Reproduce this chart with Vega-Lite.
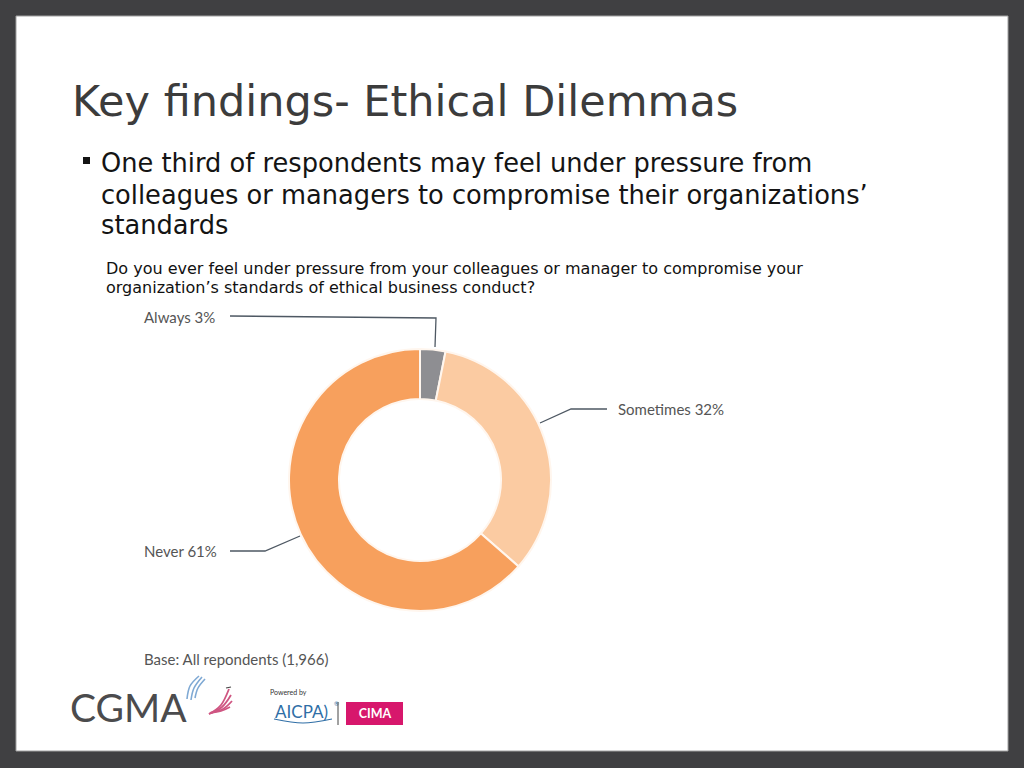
{
  "$schema": "https://vega.github.io/schema/vega-lite/v6.json",
  "width": 1024,
  "height": 768,
  "autosize": {"type": "fit", "contains": "padding"},
  "padding": 0,
  "background": "#404042",
  "config": {"view": {"stroke": null}},
  "datasets": {
    "panel": [{"x": 16, "x2": 1008, "y": 16, "y2": 751}],
    "donut": [
      {"answer": "Always", "pct": 3, "ord": 1, "cx": 420, "cy": 480},
      {"answer": "Sometimes", "pct": 32, "ord": 2, "cx": 420, "cy": 480},
      {"answer": "Never", "pct": 61, "ord": 3, "cx": 420, "cy": 480}
    ],
    "leaders": [
      {"g": "Always", "s": 1, "x": 230, "y": 316},
      {"g": "Always", "s": 2, "x": 436, "y": 318},
      {"g": "Always", "s": 3, "x": 435, "y": 347},
      {"g": "Sometimes", "s": 1, "x": 607, "y": 409},
      {"g": "Sometimes", "s": 2, "x": 571, "y": 409},
      {"g": "Sometimes", "s": 3, "x": 540, "y": 423},
      {"g": "Never", "s": 1, "x": 230, "y": 551},
      {"g": "Never", "s": 2, "x": 265, "y": 551},
      {"g": "Never", "s": 3, "x": 300, "y": 536}
    ],
    "title": [{"x": 72, "y": 116, "text": "Key findings- Ethical Dilemmas"}],
    "bullet": [
      {"x": 101, "y": 172, "text": "One third of respondents may feel under pressure from"},
      {"x": 101, "y": 204, "text": "colleagues or managers to compromise their organizations’"},
      {"x": 101, "y": 234, "text": "standards"}
    ],
    "bulletMark": [{"x": 83, "x2": 90, "y": 157, "y2": 164}],
    "question": [
      {"x": 106, "y": 274, "text": "Do you ever feel under pressure from your colleagues or manager to compromise your"},
      {"x": 106, "y": 293, "text": "organization’s standards of ethical business conduct?"}
    ],
    "labels": [
      {"x": 144, "y": 323, "text": "Always 3%"},
      {"x": 618, "y": 415, "text": "Sometimes 32%"},
      {"x": 144, "y": 557, "text": "Never 61%"},
      {"x": 144, "y": 665, "text": "Base: All repondents (1,966)"}
    ],
    "cgma": [{"x": 70, "y": 722, "text": "CGMA"}],
    "blueSwoosh": [
      {"g": 1, "s": 1, "x": 187, "y": 699}, {"g": 1, "s": 2, "x": 190, "y": 686}, {"g": 1, "s": 3, "x": 199, "y": 676},
      {"g": 2, "s": 1, "x": 191, "y": 700}, {"g": 2, "s": 2, "x": 194, "y": 688}, {"g": 2, "s": 3, "x": 202, "y": 677},
      {"g": 3, "s": 1, "x": 195, "y": 698}, {"g": 3, "s": 2, "x": 198, "y": 688}, {"g": 3, "s": 3, "x": 205, "y": 679}
    ],
    "pinkSwoosh": [
      {"g": 1, "s": 1, "x": 209, "y": 714}, {"g": 1, "s": 2, "x": 221, "y": 705}, {"g": 1, "s": 3, "x": 229, "y": 689},
      {"g": 2, "s": 1, "x": 209, "y": 714}, {"g": 2, "s": 2, "x": 222, "y": 707}, {"g": 2, "s": 3, "x": 231, "y": 695},
      {"g": 3, "s": 1, "x": 210, "y": 713}, {"g": 3, "s": 2, "x": 223, "y": 709}, {"g": 3, "s": 3, "x": 232, "y": 701},
      {"g": 4, "s": 1, "x": 210, "y": 713}, {"g": 4, "s": 2, "x": 221, "y": 711}, {"g": 4, "s": 3, "x": 230, "y": 707}
    ],
    "darkTick": [
      {"g": 1, "s": 1, "x": 226, "y": 688}, {"g": 1, "s": 2, "x": 231, "y": 687}
    ],
    "powered": [{"x": 270, "y": 695, "text": "Powered by"}],
    "aicpa": [{"x": 275, "y": 718, "text": "AICPA)"}],
    "reg": [{"x": 334, "y": 706, "text": "®"}],
    "aicpaSwoosh": [
      {"g": 1, "s": 1, "x": 274, "y": 719}, {"g": 1, "s": 2, "x": 303, "y": 723}, {"g": 1, "s": 3, "x": 332, "y": 719}
    ],
    "sep": [{"x": 338, "y": 702, "y2": 725}],
    "cimaBox": [{"x": 346, "x2": 403, "y": 702, "y2": 725}],
    "cimaText": [{"x": 375, "y": 718, "text": "CIMA"}]
  },
  "layer": [
    {
      "data": {"name": "panel"},
      "mark": {"type": "rect", "fill": "#ffffff", "stroke": "#a0a0a0", "strokeWidth": 1},
      "encoding": {
        "x": {"field": "x", "type": "quantitative", "scale": {"domain": [0, 1024], "nice": false, "zero": false}, "axis": null},
        "x2": {"field": "x2"},
        "y": {"field": "y", "type": "quantitative", "scale": {"domain": [0, 768], "nice": false, "zero": false, "reverse": true}, "axis": null},
        "y2": {"field": "y2"}
      }
    },
    {
      "data": {"name": "donut"},
      "mark": {"type": "arc", "innerRadius": 81, "outerRadius": 131, "stroke": "#fff6ee", "strokeWidth": 2},
      "encoding": {
        "theta": {"field": "pct", "type": "quantitative", "stack": true},
        "order": {"field": "ord", "type": "quantitative"},
        "color": {"field": "answer", "type": "nominal", "scale": {"domain": ["Always", "Sometimes", "Never"], "range": ["#8e8e92", "#fbcba2", "#f7a05d"]}, "legend": null},
        "x": {"field": "cx", "type": "quantitative", "scale": {"domain": [0, 1024], "nice": false, "zero": false}, "axis": null},
        "y": {"field": "cy", "type": "quantitative", "scale": {"domain": [0, 768], "nice": false, "zero": false, "reverse": true}, "axis": null}
      }
    },
    {
      "data": {"name": "leaders"},
      "mark": {"type": "line", "stroke": "#4e5863", "strokeWidth": 1.3},
      "encoding": {
        "x": {"field": "x", "type": "quantitative", "axis": null},
        "y": {"field": "y", "type": "quantitative", "axis": null},
        "detail": {"field": "g"},
        "order": {"field": "s", "type": "quantitative"}
      }
    },
    {
      "data": {"name": "title"},
      "mark": {"type": "text", "align": "left", "baseline": "alphabetic", "font": "DejaVu Sans", "fontSize": 43, "fill": "#3c3c3c"},
      "encoding": {
        "x": {"field": "x", "type": "quantitative", "axis": null},
        "y": {"field": "y", "type": "quantitative", "axis": null},
        "text": {"field": "text"}
      }
    },
    {
      "data": {"name": "bullet"},
      "mark": {"type": "text", "align": "left", "baseline": "alphabetic", "font": "DejaVu Sans", "fontSize": 25.7, "fill": "#141414"},
      "encoding": {
        "x": {"field": "x", "type": "quantitative", "axis": null},
        "y": {"field": "y", "type": "quantitative", "axis": null},
        "text": {"field": "text"}
      }
    },
    {
      "data": {"name": "bulletMark"},
      "mark": {"type": "rect", "fill": "#141414"},
      "encoding": {
        "x": {"field": "x", "type": "quantitative", "axis": null},
        "x2": {"field": "x2"},
        "y": {"field": "y", "type": "quantitative", "axis": null},
        "y2": {"field": "y2"}
      }
    },
    {
      "data": {"name": "question"},
      "mark": {"type": "text", "align": "left", "baseline": "alphabetic", "font": "DejaVu Sans", "fontSize": 16, "fill": "#111111"},
      "encoding": {
        "x": {"field": "x", "type": "quantitative", "axis": null},
        "y": {"field": "y", "type": "quantitative", "axis": null},
        "text": {"field": "text"}
      }
    },
    {
      "data": {"name": "labels"},
      "mark": {"type": "text", "align": "left", "baseline": "alphabetic", "font": "Lato", "fontSize": 15, "fill": "#555555"},
      "encoding": {
        "x": {"field": "x", "type": "quantitative", "axis": null},
        "y": {"field": "y", "type": "quantitative", "axis": null},
        "text": {"field": "text"}
      }
    },
    {
      "data": {"name": "cgma"},
      "mark": {"type": "text", "align": "left", "baseline": "alphabetic", "font": "Lato", "fontSize": 39, "fill": "#4b4b4d"},
      "encoding": {
        "x": {"field": "x", "type": "quantitative", "axis": null},
        "y": {"field": "y", "type": "quantitative", "axis": null},
        "text": {"field": "text"}
      }
    },
    {
      "data": {"name": "blueSwoosh"},
      "mark": {"type": "line", "stroke": "#7fa9d4", "strokeWidth": 1.6, "interpolate": "natural"},
      "encoding": {
        "x": {"field": "x", "type": "quantitative", "axis": null},
        "y": {"field": "y", "type": "quantitative", "axis": null},
        "detail": {"field": "g"},
        "order": {"field": "s", "type": "quantitative"}
      }
    },
    {
      "data": {"name": "pinkSwoosh"},
      "mark": {"type": "line", "stroke": "#cf5682", "strokeWidth": 1.8, "interpolate": "natural"},
      "encoding": {
        "x": {"field": "x", "type": "quantitative", "axis": null},
        "y": {"field": "y", "type": "quantitative", "axis": null},
        "detail": {"field": "g"},
        "order": {"field": "s", "type": "quantitative"}
      }
    },
    {
      "data": {"name": "darkTick"},
      "mark": {"type": "line", "stroke": "#444444", "strokeWidth": 1.2},
      "encoding": {
        "x": {"field": "x", "type": "quantitative", "axis": null},
        "y": {"field": "y", "type": "quantitative", "axis": null},
        "detail": {"field": "g"},
        "order": {"field": "s", "type": "quantitative"}
      }
    },
    {
      "data": {"name": "powered"},
      "mark": {"type": "text", "align": "left", "baseline": "alphabetic", "font": "Lato", "fontSize": 7, "fill": "#333333"},
      "encoding": {
        "x": {"field": "x", "type": "quantitative", "axis": null},
        "y": {"field": "y", "type": "quantitative", "axis": null},
        "text": {"field": "text"}
      }
    },
    {
      "data": {"name": "aicpa"},
      "mark": {"type": "text", "align": "left", "baseline": "alphabetic", "font": "Lato", "fontSize": 17, "fill": "#2f6ea6"},
      "encoding": {
        "x": {"field": "x", "type": "quantitative", "axis": null},
        "y": {"field": "y", "type": "quantitative", "axis": null},
        "text": {"field": "text"}
      }
    },
    {
      "data": {"name": "reg"},
      "mark": {"type": "text", "align": "left", "baseline": "alphabetic", "font": "Lato", "fontSize": 6, "fill": "#2f6ea6"},
      "encoding": {
        "x": {"field": "x", "type": "quantitative", "axis": null},
        "y": {"field": "y", "type": "quantitative", "axis": null},
        "text": {"field": "text"}
      }
    },
    {
      "data": {"name": "aicpaSwoosh"},
      "mark": {"type": "line", "stroke": "#2f6ea6", "strokeWidth": 1.2, "interpolate": "natural"},
      "encoding": {
        "x": {"field": "x", "type": "quantitative", "axis": null},
        "y": {"field": "y", "type": "quantitative", "axis": null},
        "detail": {"field": "g"},
        "order": {"field": "s", "type": "quantitative"}
      }
    },
    {
      "data": {"name": "sep"},
      "mark": {"type": "rule", "stroke": "#444444", "strokeWidth": 1},
      "encoding": {
        "x": {"field": "x", "type": "quantitative", "axis": null},
        "y": {"field": "y", "type": "quantitative", "axis": null},
        "y2": {"field": "y2"}
      }
    },
    {
      "data": {"name": "cimaBox"},
      "mark": {"type": "rect", "fill": "#d7176c"},
      "encoding": {
        "x": {"field": "x", "type": "quantitative", "axis": null},
        "x2": {"field": "x2"},
        "y": {"field": "y", "type": "quantitative", "axis": null},
        "y2": {"field": "y2"}
      }
    },
    {
      "data": {"name": "cimaText"},
      "mark": {"type": "text", "align": "center", "baseline": "alphabetic", "font": "Lato", "fontSize": 12.5, "fontWeight": "bold", "fill": "#ffffff"},
      "encoding": {
        "x": {"field": "x", "type": "quantitative", "axis": null},
        "y": {"field": "y", "type": "quantitative", "axis": null},
        "text": {"field": "text"}
      }
    }
  ]
}
